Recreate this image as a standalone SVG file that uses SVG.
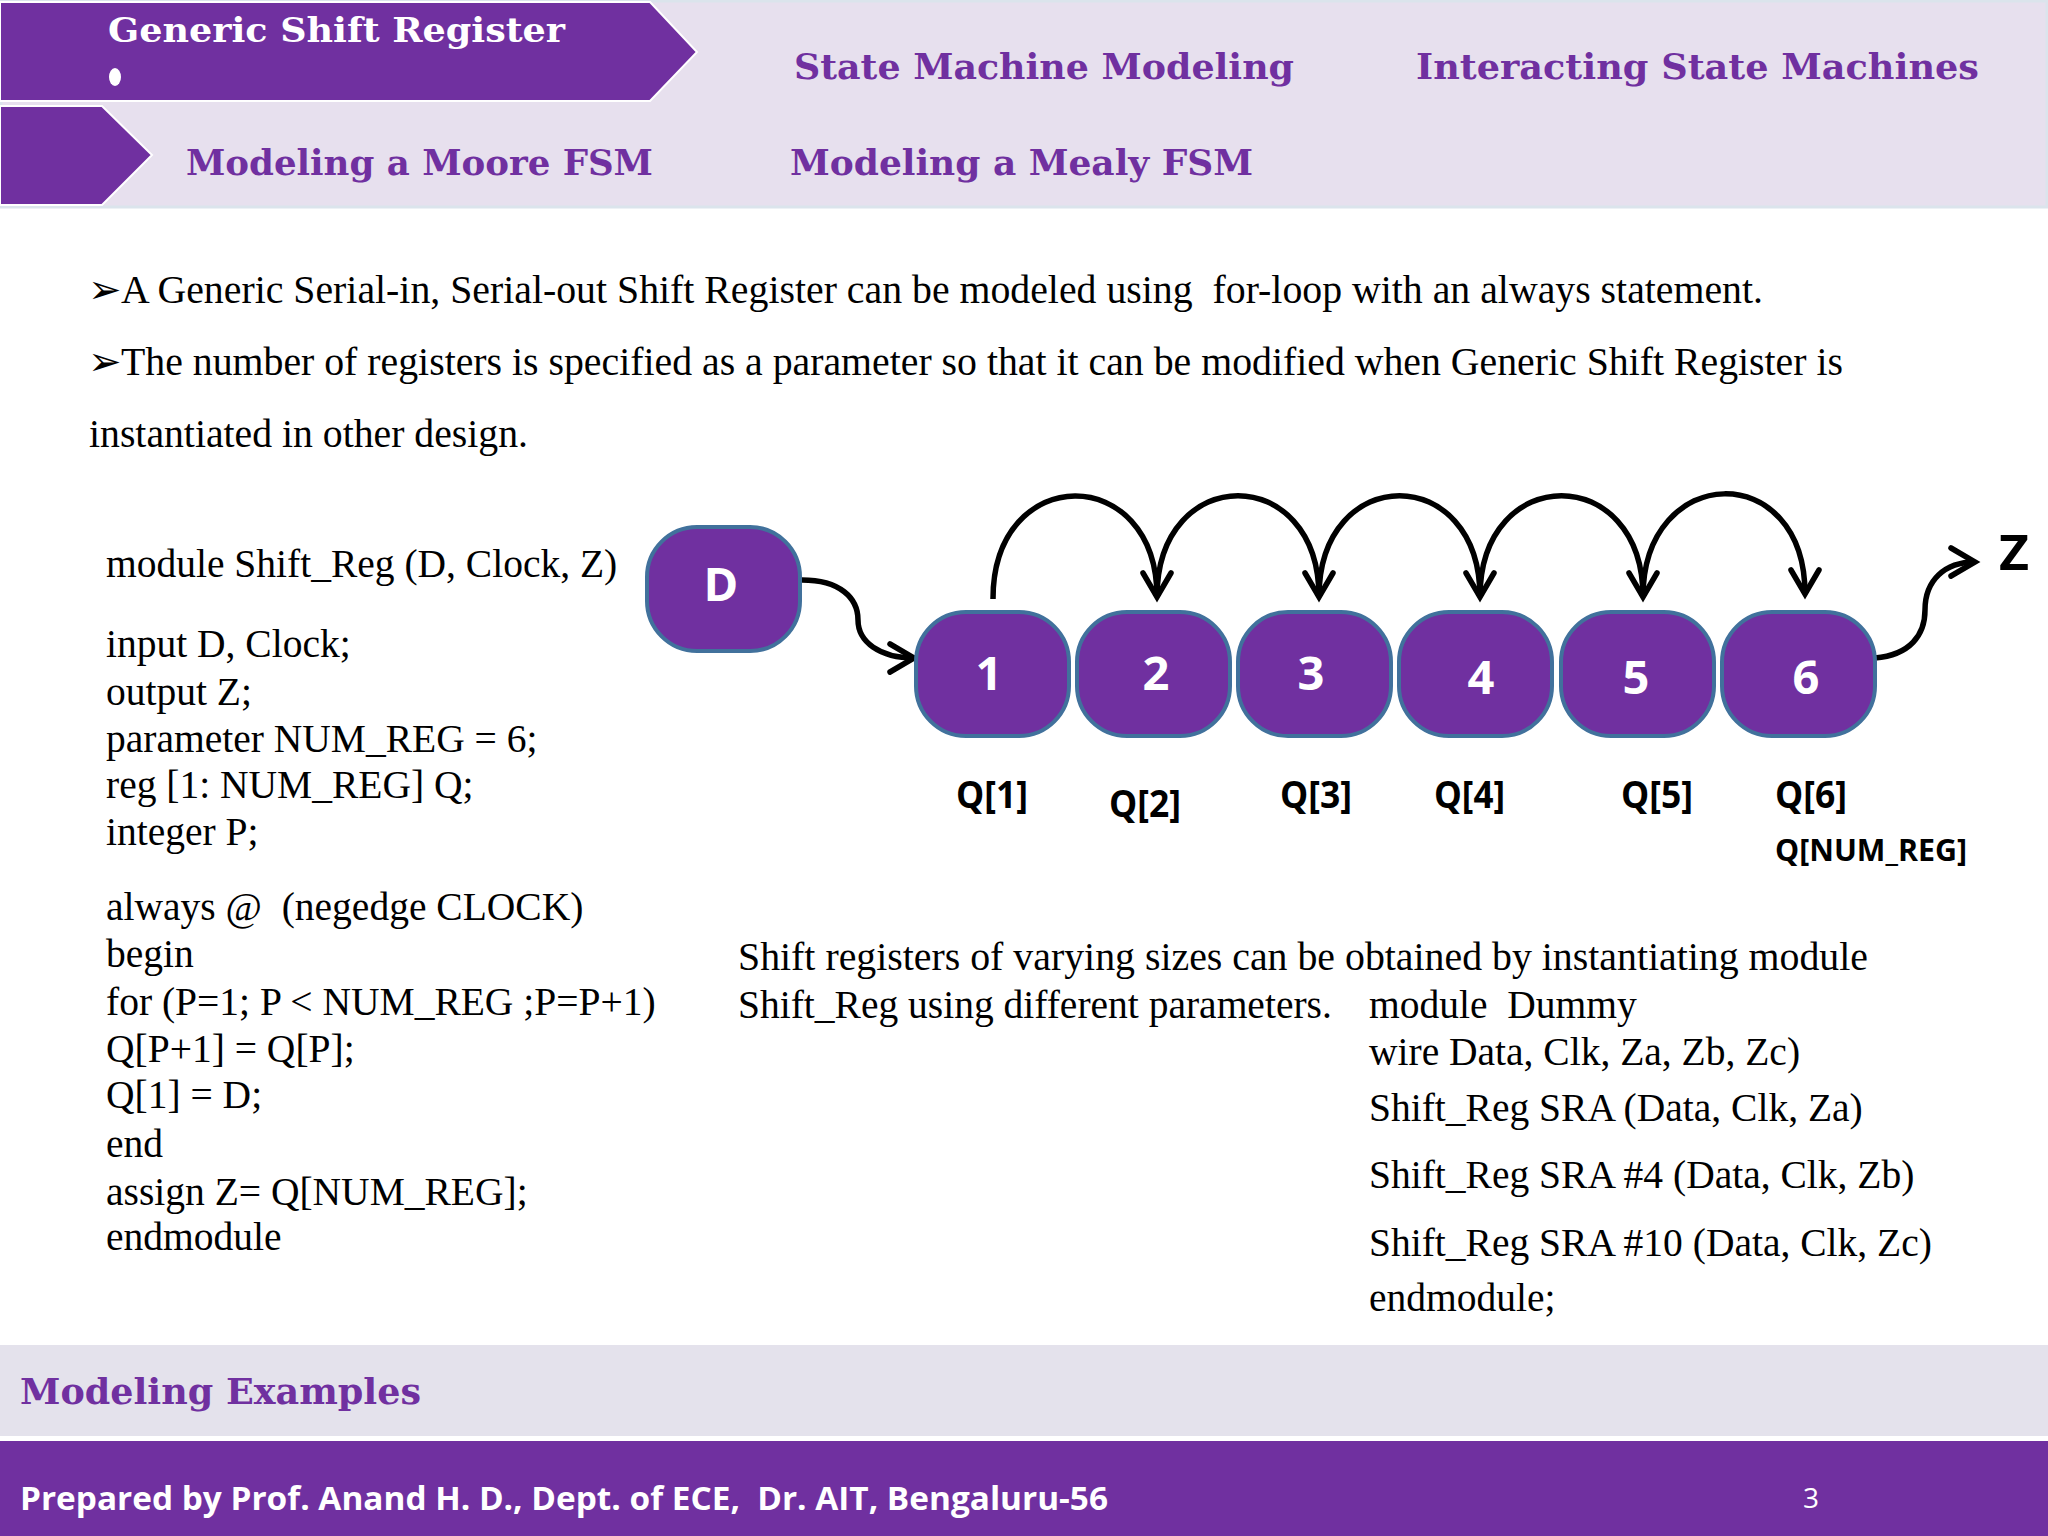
<svg xmlns="http://www.w3.org/2000/svg" width="2048" height="1536" viewBox="0 0 2048 1536">
<style>
text{white-space:pre}
.hdr{font-family:"DejaVu Serif","Liberation Serif",serif;font-weight:bold;fill:#7030a0}
.hdrw{font-family:"DejaVu Serif","Liberation Serif",serif;font-weight:bold;fill:#ffffff}
.body{font-family:"Liberation Serif","Times New Roman",serif;font-size:39.5px;fill:#000}
.bul{font-family:"DejaVu Sans",sans-serif;font-size:40px;fill:#000}
.node{fill:#7030a0;stroke:#41719c;stroke-width:4}
.nlab{font-family:"Open Sans","Noto Sans",sans-serif;font-weight:bold;font-size:47px;fill:#fff;text-anchor:middle}
.qlab{font-family:"Open Sans","Noto Sans",sans-serif;font-weight:bold;fill:#000}
.conn{fill:none;stroke:#000;stroke-width:5.5;stroke-linecap:butt}
.foot{font-family:"Open Sans","Noto Sans",sans-serif;fill:#fff}
</style>
<defs>
<marker id="ah" markerUnits="userSpaceOnUse" markerWidth="40" markerHeight="40" viewBox="-30 -20 40 40" refX="0" refY="0" orient="auto" overflow="visible">
<path d="M-24,-14 L0,0 L-24,14" fill="none" stroke="#000" stroke-width="5.5" stroke-linecap="round" stroke-linejoin="miter"/>
</marker>
</defs>
<rect x="0" y="0" width="2048" height="1536" fill="#ffffff"/>
<g id="header">
<rect x="1" y="1" width="2046" height="206" fill="#e7e0ee" stroke="#dbe4ec" stroke-width="3"/>
<polygon points="0,2 650,2 697,52 650,101 0,101" fill="#7030a0" stroke="#ffffff" stroke-width="2"/>
<polygon points="0,106 102,106 152,155 102,205 0,205" fill="#7030a0" stroke="#ffffff" stroke-width="2"/>
<text class="hdrw" x="108" y="42" font-size="33" textLength="457" lengthAdjust="spacingAndGlyphs">Generic Shift Register</text>
<ellipse cx="115" cy="77" rx="6" ry="9" fill="#ffffff"/>
<text class="hdr" x="794" y="79" font-size="36" textLength="500" lengthAdjust="spacingAndGlyphs">State Machine Modeling</text>
<text class="hdr" x="1416" y="79" font-size="36" textLength="563" lengthAdjust="spacingAndGlyphs">Interacting State Machines</text>
<text class="hdr" x="186" y="175" font-size="36" textLength="467" lengthAdjust="spacingAndGlyphs">Modeling a Moore FSM</text>
<text class="hdr" x="790" y="175" font-size="36" textLength="463" lengthAdjust="spacingAndGlyphs">Modeling a Mealy FSM</text>
</g>
<g id="intro">
<text class="bul" x="88" y="303">➢</text>
<text class="body" x="121" y="303" textLength="1642" lengthAdjust="spacingAndGlyphs">A Generic Serial-in, Serial-out Shift Register can be modeled using &#160;for-loop with an always statement.</text>
<text class="bul" x="88" y="375">➢</text>
<text class="body" x="121" y="375" textLength="1722" lengthAdjust="spacingAndGlyphs">The number of registers is specified as a parameter so that it can be modified when Generic Shift Register is</text>
<text class="body" x="89" y="447" textLength="439" lengthAdjust="spacingAndGlyphs">instantiated in other design.</text>
</g>
<g id="code">
<text class="body" x="106" y="577">module Shift_Reg (D, Clock, Z)</text>
<text class="body" x="106" y="657">input D, Clock;</text>
<text class="body" x="106" y="705">output Z;</text>
<text class="body" x="106" y="752">parameter NUM_REG = 6;</text>
<text class="body" x="106" y="798">reg [1: NUM_REG] Q;</text>
<text class="body" x="106" y="845">integer P;</text>
<text class="body" x="106" y="920">always @ &#160;(negedge CLOCK)</text>
<text class="body" x="106" y="967">begin</text>
<text class="body" x="106" y="1015">for (P=1; P &lt; NUM_REG ;P=P+1)</text>
<text class="body" x="106" y="1062">Q[P+1] = Q[P];</text>
<text class="body" x="106" y="1108">Q[1] = D;</text>
<text class="body" x="106" y="1157">end</text>
<text class="body" x="106" y="1205">assign Z= Q[NUM_REG];</text>
<text class="body" x="106" y="1250">endmodule</text>
</g>
<g id="instantiation">
<text class="body" x="738" y="970" textLength="1130" lengthAdjust="spacingAndGlyphs">Shift registers of varying sizes can be obtained by instantiating module</text>
<text class="body" x="738" y="1018">Shift_Reg using different parameters.</text>
<text class="body" x="1369" y="1018">module &#160;Dummy</text>
<text class="body" x="1369" y="1065">wire Data, Clk, Za, Zb, Zc)</text>
<text class="body" x="1369" y="1121">Shift_Reg SRA (Data, Clk, Za)</text>
<text class="body" x="1369" y="1188">Shift_Reg SRA #4 (Data, Clk, Zb)</text>
<text class="body" x="1369" y="1256">Shift_Reg SRA #10 (Data, Clk, Zc)</text>
<text class="body" x="1369" y="1311">endmodule;</text>
</g>
<g id="connectors">
<path class="conn" marker-end="url(#ah)" d="M802,580 C840,580 858,598 858,620 C858,642 880,658 914,658"/>
<path class="conn" marker-end="url(#ah)" d="M993,599 C993,462 1157,462 1157,597"/>
<path class="conn" marker-end="url(#ah)" d="M1157,597 C1157,462 1319,462 1319,597"/>
<path class="conn" marker-end="url(#ah)" d="M1319,597 C1319,462 1480,462 1480,597"/>
<path class="conn" marker-end="url(#ah)" d="M1480,597 C1480,462 1643,462 1643,597"/>
<path class="conn" marker-end="url(#ah)" d="M1643,597 C1643,462 1805,458 1805,594"/>
<path class="conn" marker-end="url(#ah)" d="M1875,658 C1910,655 1925,635 1925,610 C1925,580 1945,562 1975,562"/>
</g>
<g id="node-D"><rect class="node" x="647" y="527" width="153" height="124" rx="50" ry="50"/><text class="nlab" x="721" y="601">D</text></g>
<g id="node-1"><rect class="node" x="916" y="612" width="153" height="124" rx="50" ry="50"/><text class="nlab" x="989" y="690">1</text></g>
<g id="node-2"><rect class="node" x="1077" y="612" width="153" height="124" rx="50" ry="50"/><text class="nlab" x="1156" y="690">2</text></g>
<g id="node-3"><rect class="node" x="1238" y="612" width="153" height="124" rx="50" ry="50"/><text class="nlab" x="1311" y="690">3</text></g>
<g id="node-4"><rect class="node" x="1399" y="612" width="153" height="124" rx="50" ry="50"/><text class="nlab" x="1481" y="694">4</text></g>
<g id="node-5"><rect class="node" x="1561" y="612" width="153" height="124" rx="50" ry="50"/><text class="nlab" x="1636" y="694">5</text></g>
<g id="node-6"><rect class="node" x="1722" y="612" width="153" height="124" rx="50" ry="50"/><text class="nlab" x="1806" y="694">6</text></g>
<g id="label-Z"><text class="qlab" x="1999" y="570" style="font-size:48px" textLength="30" lengthAdjust="spacingAndGlyphs">Z</text></g>
<g id="q-labels">
<text class="qlab" x="956" y="808" style="font-size:37px" textLength="72" lengthAdjust="spacingAndGlyphs">Q[1]</text>
<text class="qlab" x="1109" y="817" style="font-size:37px" textLength="72" lengthAdjust="spacingAndGlyphs">Q[2]</text>
<text class="qlab" x="1280" y="808" style="font-size:37px" textLength="72" lengthAdjust="spacingAndGlyphs">Q[3]</text>
<text class="qlab" x="1434" y="808" style="font-size:37px" textLength="71" lengthAdjust="spacingAndGlyphs">Q[4]</text>
<text class="qlab" x="1621" y="808" style="font-size:37px" textLength="72" lengthAdjust="spacingAndGlyphs">Q[5]</text>
<text class="qlab" x="1775" y="808" style="font-size:37px" textLength="72" lengthAdjust="spacingAndGlyphs">Q[6]</text>
<text class="qlab" x="1775" y="861" style="font-size:31px" textLength="192" lengthAdjust="spacingAndGlyphs">Q[NUM_REG]</text>
</g>
<g id="footer">
<rect x="0" y="1345" width="2048" height="91" fill="#e4e2ec"/>
<text class="hdr" x="20" y="1404" font-size="35" textLength="401" lengthAdjust="spacingAndGlyphs">Modeling Examples</text>
<rect x="0" y="1441" width="2048" height="95" fill="#7030a0"/>
<text class="foot" x="20" y="1510" font-size="33" font-weight="bold" textLength="1088" lengthAdjust="spacingAndGlyphs">Prepared by Prof. Anand H. D., Dept. of ECE, &#160;Dr. AIT, Bengaluru-56</text>
<text class="foot" x="1803" y="1508" font-size="28">3</text>
</g>
</svg>
